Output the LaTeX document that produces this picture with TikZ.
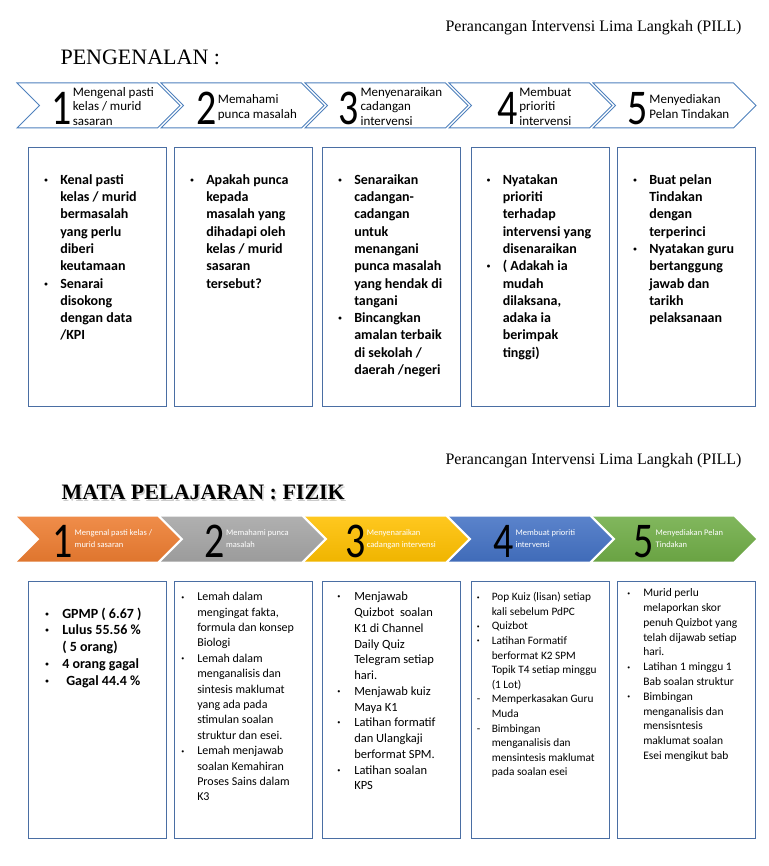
\documentclass[tikz,border=0pt]{standalone}
\usepackage{fontspec}
\setmainfont{Liberation Serif}
\newfontfamily\carl{Carlito}
\usepackage{graphicx}
\usetikzlibrary{positioning, shapes.symbols}

\definecolor{pillblue}{HTML}{4F81BD}
\definecolor{boxblue}{HTML}{4A6EA3}
\definecolor{fzorange}{HTML}{ED7D31}
\definecolor{fzgray}{HTML}{A5A5A5}
\definecolor{fzgold}{HTML}{FFC000}
\definecolor{fzblue}{HTML}{4472C4}
\definecolor{fzgreen}{HTML}{70AD47}

\newcommand{\pnum}[1]{\scalebox{0.8}[1]{\fontsize{50}{50}\selectfont #1}}
\newcommand{\plabel}[2]{\hspace{1.5pt}\smash{\raisebox{#1}{\begin{tabular}[c]{@{}l@{}}#2\end{tabular}}}}
\newcommand{\pdot}{\raisebox{0.3ex}{\scalebox{0.5}{\textbullet}}}
\newcommand{\blist}[2]{\begin{tabular}{@{}p{#1}@{}l@{}}#2\end{tabular}}

\begin{document}
\begin{tikzpicture}[x=1pt, y=-1pt,
  pill/.style={signal, signal from=west, signal to=east, signal pointer angle=90,
    minimum width=163pt, minimum height=45pt, inner sep=0pt, line width=1pt},
  pilltop/.style={pill, draw=pillblue, fill=white},
  pillfz/.style={pill, top color=#1!88!white, bottom color=#1!94!black},
  pillno/.style={anchor=base, inner sep=0pt, font=\carl\fontsize{13}{14.3}\selectfont},
  fzno/.style={anchor=base, inner sep=0pt, font=\carl\fontsize{8.5}{12}\selectfont},
  pillbox/.style={draw=boxblue, line width=0.9pt, minimum width=138pt, minimum height=#1, inner sep=0pt},
  boxtext/.style={inner sep=0pt},
  every node/.style={align=left}]
\useasboundingbox (0,0) rectangle (768,866);

% ---- bahagian atas : pengenalan
\node[anchor=east, font=\fontsize{16}{19}\selectfont] (hdr1) at (745,28) {Perancangan Intervensi Lima Langkah (PILL)};
\node[anchor=west, font=\fontsize{22}{26}\selectfont] (intro) at (57,57) {PENGENALAN :};

\node[pilltop] (pill1) at (98.5,105.5) {};
\node[pilltop] (pill2) at (242.5,105.5) {};
\node[pilltop] (pill3) at (386.5,105.5) {};
\node[pilltop] (pill4) at (530.5,105.5) {};
\node[pilltop] (pill5) at (674.5,105.5) {};
\node[pillno] (pno1) at ([xshift=4pt, yshift=-19.5pt]pill1.center) {\pnum{1}\plabel{14pt}{Mengenal pasti\\kelas / murid\\sasaran}};
\node[pillno] (pno2) at ([xshift=4pt, yshift=-19.5pt]pill2.center) {\pnum{2}\plabel{14pt}{Memahami\\punca masalah}};
\node[pillno] (pno3) at ([xshift=4pt, yshift=-19.5pt]pill3.center) {\pnum{3}\plabel{14pt}{Menyenaraikan\\cadangan\\intervensi}};
\node[pillno] (pno4) at ([xshift=4pt, yshift=-19.5pt]pill4.center) {\pnum{4}\plabel{14pt}{Membuat\\prioriti\\intervensi}};
\node[pillno] (pno5) at ([xshift=4pt, yshift=-19.5pt]pill5.center) {\pnum{5}\plabel{14pt}{Menyediakan\\Pelan Tindakan}};

\node[pillbox=259pt] (kot1) at (97.5,276.5) {};
\node[pillbox=259pt] (kot2) at (243.5,276.5) {};
\node[pillbox=259pt] (kot3) at (391.5,276.5) {};
\node[pillbox=259pt] (kot4) at (540,276.5) {};
\node[pillbox=259pt] (kot5) at (686.5,276.5) {};

\node[boxtext, font=\carl\bfseries\fontsize{14}{17.3}\selectfont, below right=25.4pt and 16pt of kot1.north west] (kt1)
  {\blist{16pt}{\pdot & Kenal pasti\\ & kelas / murid\\ & bermasalah\\ & yang perlu\\ & diberi\\ & keutamaan\\
   \pdot & Senarai\\ & disokong\\ & dengan data\\ & /KPI}};
\node[boxtext, font=\carl\bfseries\fontsize{14}{17.3}\selectfont, below right=25.4pt and 16pt of kot2.north west] (kt2)
  {\blist{16pt}{\pdot & Apakah punca\\ & kepada\\ & masalah yang\\ & dihadapi oleh\\ & kelas / murid\\ & sasaran\\ & tersebut?}};
\node[boxtext, font=\carl\bfseries\fontsize{14}{17.3}\selectfont, below right=25.4pt and 16pt of kot3.north west] (kt3)
  {\blist{16pt}{\pdot & Senaraikan\\ & cadangan-\\ & cadangan\\ & untuk\\ & menangani\\ & punca masalah\\ & yang hendak di\\ & tangani\\
   \pdot & Bincangkan\\ & amalan terbaik\\ & di sekolah /\\ & daerah /negeri}};
\node[boxtext, font=\carl\bfseries\fontsize{14}{17.3}\selectfont, below right=25.4pt and 16pt of kot4.north west] (kt4)
  {\blist{16pt}{\pdot & Nyatakan\\ & prioriti\\ & terhadap\\ & intervensi yang\\ & disenaraikan\\
   \pdot & ( Adakah ia\\ & mudah\\ & dilaksana,\\ & adaka ia\\ & berimpak\\ & tinggi)}};
\node[boxtext, font=\carl\bfseries\fontsize{14}{17.3}\selectfont, below right=25.4pt and 16pt of kot5.north west] (kt5)
  {\blist{16pt}{\pdot & Buat pelan\\ & Tindakan\\ & dengan\\ & terperinci\\
   \pdot & Nyatakan guru\\ & bertanggung\\ & jawab dan\\ & tarikh\\ & pelaksanaan}};

% ---- bahagian bawah : fizik
\node[anchor=east, font=\fontsize{16}{19}\selectfont] (hdr2) at (745,461) {Perancangan Intervensi Lima Langkah (PILL)};
\node[anchor=west, font=\bfseries\fontsize{22}{26}\selectfont, text=black!45, opacity=0.45] (subjsh) at (59.5,494.5) {MATA PELAJARAN : FIZIK};
\node[anchor=west, font=\bfseries\fontsize{22}{26}\selectfont] (subj) at (58,492) {MATA PELAJARAN : FIZIK};

\node[pillfz=fzorange] (fiz1) at (98.5,539) {};
\node[pillfz=fzgray] (fiz2) at (242.5,539) {};
\node[pillfz=fzgold] (fiz3) at (386.5,539) {};
\node[pillfz=fzblue] (fiz4) at (530.5,539) {};
\node[pillfz=fzgreen] (fiz5) at (674.5,539) {};
\node[fzno] (fno1) at ([xshift=4pt, yshift=-18pt]fiz1.center) {\pnum{1}\plabel{16pt}{\color{white}Mengenal pasti kelas /\\\color{white}murid sasaran}};
\node[fzno] (fno2) at ([xshift=4pt, yshift=-18pt]fiz2.center) {\pnum{2}\plabel{16pt}{\color{white}Memahami punca\\\color{white}masalah}};
\node[fzno] (fno3) at ([xshift=4pt, yshift=-18pt]fiz3.center) {\pnum{3}\plabel{16pt}{\color{white}Menyenaraikan\\\color{white}cadangan intervensi}};
\node[fzno] (fno4) at ([xshift=4pt, yshift=-18pt]fiz4.center) {\pnum{4}\plabel{16pt}{\color{white}Membuat prioriti\\\color{white}intervensi}};
\node[fzno] (fno5) at ([xshift=4pt, yshift=-18pt]fiz5.center) {\pnum{5}\plabel{16pt}{\color{white}Menyediakan Pelan\\\color{white}Tindakan}};

\node[pillbox=257pt] (fbox1) at (97.5,709.5) {};
\node[pillbox=257pt] (fbox2) at (243.5,709.5) {};
\node[pillbox=257pt] (fbox3) at (391.5,709.5) {};
\node[pillbox=257pt] (fbox4) at (540,709.5) {};
\node[pillbox=257pt] (fbox5) at (686.5,709.5) {};

\node[boxtext, font=\carl\bfseries\fontsize{14}{16.7}\selectfont, below right=25.8pt and 17pt of fbox1.north west] (ft1)
  {\blist{17pt}{\pdot & GPMP ( 6.67 )\\ \pdot & Lulus 55.56 \%\\ & ( 5 orang)\\ \pdot & 4 orang gagal\\ \pdot & \hspace{4pt}Gagal 44.4 \%}};
\node[boxtext, font=\carl\fontsize{12}{15.4}\selectfont, below right=9.2pt and 7pt of fbox2.north west] (ft2)
  {\blist{16pt}{\pdot & Lemah dalam\\ & mengingat fakta,\\ & formula dan konsep\\ & Biologi\\
   \pdot & Lemah dalam\\ & menganalisis dan\\ & sintesis maklumat\\ & yang ada pada\\ & stimulan soalan\\ & struktur dan esei.\\
   \pdot & Lemah menjawab\\ & soalan Kemahiran\\ & Proses Sains dalam\\ & K3}};
\node[boxtext, font=\carl\fontsize{12.5}{15.75}\selectfont, below right=9pt and 15pt of fbox3.north west] (ft3)
  {\blist{17pt}{\pdot & Menjawab\\ & Quizbot\ \ soalan\\ & K1 di Channel\\ & Daily Quiz\\ & Telegram setiap\\ & hari.\\
   \pdot & Menjawab kuiz\\ & Maya K1\\ \pdot & Latihan formatif\\ & dan Ulangkaji\\ & berformat SPM.\\
   \pdot & Latihan soalan\\ & KPS}};
\node[boxtext, font=\carl\fontsize{11.3}{14.6}\selectfont, below right=9.8pt and 6pt of fbox4.north west] (ft4)
  {\blist{15pt}{\pdot & Pop Kuiz (lisan) setiap\\ & kali sebelum PdPC\\ \pdot & Quizbot\\
   \pdot & Latihan Formatif\\ & berformat K2 SPM\\ & Topik T4 setiap minggu\\ & (1 Lot)\\
   - & Memperkasakan Guru\\ & Muda\\ - & Bimbingan\\ & menganalisis dan\\ & mensintesis maklumat\\ & pada soalan esei}};
\node[boxtext, font=\carl\fontsize{11.5}{14.8}\selectfont, below right=5.6pt and 10pt of fbox5.north west] (ft5)
  {\blist{16pt}{\pdot & Murid perlu\\ & melaporkan skor\\ & penuh Quizbot yang\\ & telah dijawab setiap\\ & hari.\\
   \pdot & Latihan 1 minggu 1\\ & Bab soalan struktur\\
   \pdot & Bimbingan\\ & menganalisis dan\\ & mensisntesis\\ & maklumat soalan\\ & Esei mengikut bab}};
\end{tikzpicture}
\end{document}
